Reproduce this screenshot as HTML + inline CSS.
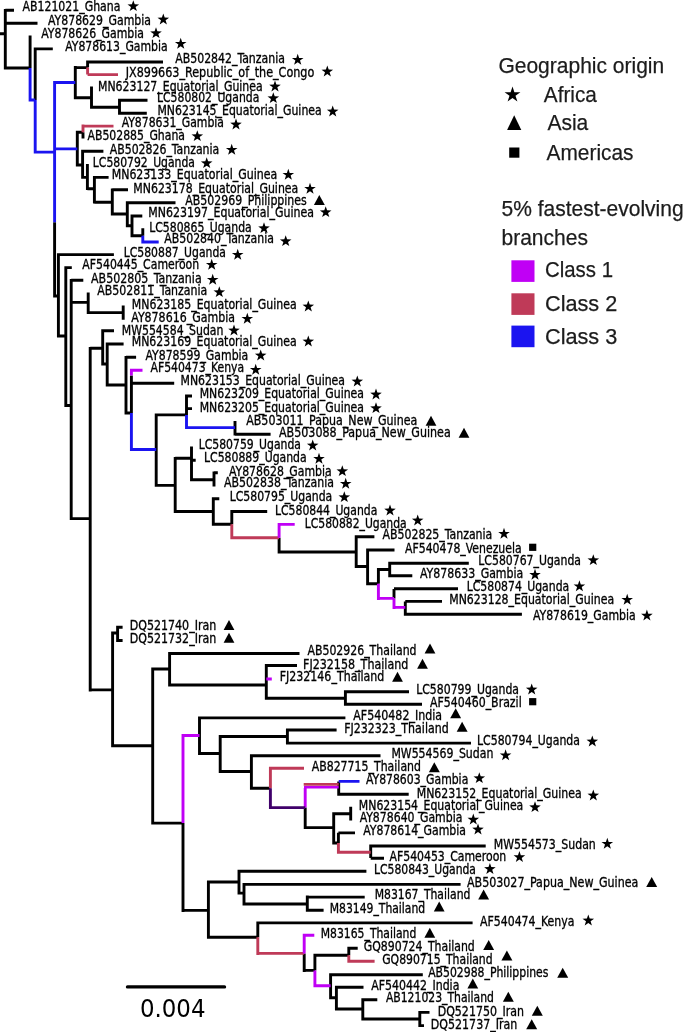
<!DOCTYPE html>
<html><head><meta charset="utf-8"><title>Phylogenetic tree</title>
<style>html,body{margin:0;padding:0;background:#fff}svg{display:block;filter:blur(0.3px)}.t{font-family:"DejaVu Sans Condensed","DejaVu Sans","Liberation Sans",sans-serif;font-size:13.2px;fill:#000;stroke:#000;stroke-width:0.3px}.l{font-family:"Liberation Sans",Arial,sans-serif;font-size:22.6px;fill:#1c1c1c;stroke:#1c1c1c;stroke-width:0.25px}.s{font-family:"DejaVu Sans","Liberation Sans",sans-serif;font-size:24px;fill:#000}</style></head><body>
<svg width="685" height="1032" viewBox="0 0 685 1032">
<rect width="685" height="1032" fill="#fff"/>
<path d="M0.0 33.7H5.3M5.3 8.9V69.5M5.3 10.3H14.0M5.3 23.2H37.5M5.3 68.0H30.1M30.1 35.5V68.0M35.2 47.4V100.0M35.2 48.9H52.8M54.6 222.3V297.4M75.3 66.1V99.2M75.3 67.6H87.6M87.6 60.5V67.6M87.6 62.0H163.0M75.3 97.8H91.5M91.5 86.5V108.8M91.5 107.3H119.5M119.5 98.8V114.8M119.5 100.2H147.5M119.5 113.3H146.8M77.3 130.8V166.4M77.3 132.2H83.0M83.0 132.2V138.5M77.3 165.0H82.6M82.6 149.8V178.8M82.6 151.2H103.4M82.6 177.4H87.4M87.4 164.0V190.1M87.4 188.7H94.4M94.4 176.0V203.6M94.4 177.4H108.6M94.4 202.2H112.3M112.3 188.4V215.4M112.3 189.8H128.0M112.3 214.0H127.3M127.3 201.2V227.2M127.3 202.7H175.5M127.3 225.8H132.0M132.0 214.6V237.2M132.0 216.0H142.3M132.0 235.8H142.8M142.8 228.3V235.8M54.6 296.0H58.4M58.4 253.2V337.4M58.4 254.6H113.9M58.4 336.0H65.8M65.8 266.2V406.9M65.8 267.6H71.8M65.8 405.5H71.2M71.2 278.9V520.1M71.2 280.3H83.3M71.2 302.4H88.2M88.2 292.5V314.1M88.2 312.6H123.2M123.2 305.5V319.8M71.2 518.6H90.2M90.2 346.9V691.4M90.2 348.3H102.7M102.7 329.2V365.4M102.7 330.7H114.0M102.7 364.0H107.2M107.2 342.6V386.4M107.2 344.0H123.6M107.2 385.0H126.0M126.0 355.9V414.4M126.0 357.3H136.1M126.0 413.0H131.4M131.4 375.5V413.0M131.4 383.3H174.2M156.2 413.4V486.8M156.2 414.9H186.5M186.5 394.6V414.9M186.5 396.0H192.0M186.5 408.6H192.0M235.0 421.0V435.6M235.0 434.2H270.6M156.2 485.4H175.2M175.2 456.9V513.0M175.2 458.3H191.5M191.5 446.5V481.2M191.5 460.3H195.7M191.5 479.8H214.0M214.0 471.4V486.6M214.0 472.8H217.8M175.2 511.5H213.3M213.3 497.2V525.8M213.3 498.7H219.3M213.3 524.3H231.8M231.8 510.1V524.3M231.8 511.5H267.2M279.1 537.7V553.5M279.1 552.0H356.2M356.2 535.3V568.0M356.2 536.8H374.4M356.2 566.5H367.6M367.6 548.5V585.2M367.6 550.0H394.5M367.6 583.7H378.4M378.4 568.0V583.7M378.4 569.5H389.7M389.7 561.8V577.2M389.7 563.2H468.8M389.7 575.8H412.3M394.0 589.0V598.4M394.0 588.8H458.0M405.3 601.6V615.7M405.3 601.4H442.0M405.3 614.2H521.9M90.2 689.9H112.6M112.6 631.5V747.2M112.6 633.0H117.6M117.6 625.8V642.0M117.6 627.3H122.6M117.6 640.5H122.6M112.6 745.8H152.7M152.7 667.5V824.6M152.7 669.0H169.6M169.6 652.0V686.5M169.6 653.5H299.5M169.6 685.0H266.3M266.3 664.0V699.7M266.3 665.5H297.0M266.3 698.2H345.4M345.4 690.2V705.7M345.4 691.7H409.0M345.4 704.2H422.0M152.7 823.1H183.0M183.0 823.1V911.9M199.5 716.4V755.0M199.5 717.9H345.4M199.5 753.5H220.2M220.2 735.0V773.0M220.2 736.5H287.4M287.4 728.5V744.6M287.4 730.0H336.6M287.4 743.1H471.0M220.2 771.5H251.4M251.4 754.3V789.7M251.4 755.8H380.5M251.4 788.2H270.4M305.2 807.6V829.1M338.7 781.5V795.7M338.7 794.2H408.7M305.2 827.6H333.7M333.7 812.2V844.5M333.7 813.7H350.7M350.7 806.8V820.6M333.7 843.0H338.4M338.4 832.8V843.0M338.4 832.9H355.0M370.7 844.5V858.1M370.7 846.0H485.7M370.7 858.3H384.0M183.0 910.4H208.4M208.4 880.5V938.8M208.4 882.0H239.0M239.0 869.8V894.6M239.0 871.2H366.4M239.0 893.1H244.0M244.0 882.9V905.5M244.0 884.4H460.6M244.0 904.0H307.3M307.3 895.6V911.7M307.3 897.1H364.7M307.3 910.2H323.6M208.4 937.3H257.8M257.8 921.4V937.3M257.8 922.9H472.6M304.2 953.4V971.9M304.2 970.4H314.9M314.9 953.8V970.4M314.9 955.2H348.8M348.8 946.8V955.2M348.8 948.3H357.7M330.6 973.3V999.2M330.6 974.8H422.8M330.6 997.8H336.4M336.4 985.8V1010.5M336.4 987.2H363.5M336.4 1009.0H362.8M362.8 998.3V1020.5M362.8 999.8H377.3M362.8 1019.0H419.8M419.8 1010.9V1027.0M419.8 1012.4H429.5M419.8 1025.6H424.0" fill="none" stroke="#000" stroke-width="2.9"/>
<path d="M30.1 68.0V101.5M30.1 100.0H35.2M35.2 100.0V153.5M35.2 152.1H54.6M54.6 81.0V222.3M54.6 82.5H75.3M54.6 148.9H77.3M142.8 235.8V243.4M142.8 242.0H158.7M131.4 413.0V450.9M131.4 449.5H156.2M186.5 414.9V429.1M186.5 427.6H235.0M338.7 781.4H359.5" fill="none" stroke="#1b14f0" stroke-width="2.9"/>
<path d="M87.6 67.6V74.5M87.6 74.6H118.0M83.0 124.6V132.2M83.0 126.1H113.5M231.8 524.3V539.2M231.8 537.7H279.1M270.4 766.8V788.2M270.4 768.2H304.0M338.4 843.0V853.8M338.4 852.3H370.7M257.8 937.3V954.9M257.8 953.4H304.2M348.8 955.2V962.8M348.8 961.3H374.6" fill="none" stroke="#bf3a58" stroke-width="2.9"/>
<path d="M131.4 368.8V375.5M131.4 370.2H142.5M279.1 522.9V537.7M279.1 524.4H294.7M378.4 583.7V599.9M378.4 598.4H394.0M394.0 598.4V608.9M394.0 607.4H405.3M266.3 679.0H271.8M183.0 734.0V823.1M183.0 735.5H199.5M305.2 788.0V807.6M304.2 933.8V953.4M304.2 935.3H314.3M314.9 970.4V987.2M314.9 985.8H330.6" fill="none" stroke="#c000f5" stroke-width="2.9"/>
<path d="M270.4 788.2V809.1M270.4 807.6H305.2" fill="none" stroke="#40006a" stroke-width="2.9"/>
<path d="M303.7 784.4H338.7" stroke="#bf3a58" stroke-width="2.6" fill="none"/>
<path d="M304.0 787.2H338.7" stroke="#c000f5" stroke-width="2.6" fill="none"/>
<g class="t">
<text x="22.5" y="11.3" textLength="97.9" lengthAdjust="spacingAndGlyphs">AB121021_Ghana</text>
<text x="48.0" y="24.6" textLength="103.0" lengthAdjust="spacingAndGlyphs">AY878629_Gambia</text>
<text x="41.3" y="37.9" textLength="102.7" lengthAdjust="spacingAndGlyphs">AY878626_Gambia</text>
<text x="65.3" y="51.3" textLength="102.4" lengthAdjust="spacingAndGlyphs">AY878613_Gambia</text>
<text x="175.2" y="63.3" textLength="109.8" lengthAdjust="spacingAndGlyphs">AB502842_Tanzania</text>
<text x="125.8" y="76.6" textLength="188.5" lengthAdjust="spacingAndGlyphs">JX899663_Republic_of_the_Congo</text>
<text x="98.0" y="91.1" textLength="164.7" lengthAdjust="spacingAndGlyphs">MN623127_Equatorial_Guinea</text>
<text x="157.0" y="101.6" textLength="102.3" lengthAdjust="spacingAndGlyphs">LC580802_Uganda</text>
<text x="157.4" y="114.9" textLength="164.3" lengthAdjust="spacingAndGlyphs">MN623145_Equatorial_Guinea</text>
<text x="121.7" y="126.6" textLength="102.3" lengthAdjust="spacingAndGlyphs">AY878631_Gambia</text>
<text x="87.5" y="140.0" textLength="97.5" lengthAdjust="spacingAndGlyphs">AB502885_Ghana</text>
<text x="109.7" y="154.1" textLength="109.6" lengthAdjust="spacingAndGlyphs">AB502826_Tanzania</text>
<text x="92.8" y="167.1" textLength="102.2" lengthAdjust="spacingAndGlyphs">LC580792_Uganda</text>
<text x="111.7" y="179.3" textLength="165.6" lengthAdjust="spacingAndGlyphs">MN623133_Equatorial_Guinea</text>
<text x="133.3" y="192.6" textLength="165.0" lengthAdjust="spacingAndGlyphs">MN623178_Equatorial_Guinea</text>
<text x="185.3" y="204.8" textLength="121.5" lengthAdjust="spacingAndGlyphs">AB502969_Philippines</text>
<text x="148.3" y="217.3" textLength="165.7" lengthAdjust="spacingAndGlyphs">MN623197_Equatorial_Guinea</text>
<text x="149.2" y="232.3" textLength="102.5" lengthAdjust="spacingAndGlyphs">LC580865_Uganda</text>
<text x="164.2" y="242.8" textLength="109.8" lengthAdjust="spacingAndGlyphs">AB502840_Tanzania</text>
<text x="123.7" y="257.2" textLength="102.3" lengthAdjust="spacingAndGlyphs">LC580887_Uganda</text>
<text x="82.3" y="269.1" textLength="116.9" lengthAdjust="spacingAndGlyphs">AF540445_Cameroon</text>
<text x="91.0" y="283.0" textLength="110.7" lengthAdjust="spacingAndGlyphs">AB502805_Tanzania</text>
<text x="97.3" y="295.4" textLength="110.0" lengthAdjust="spacingAndGlyphs">AB502811_Tanzania</text>
<text x="131.8" y="309.3" textLength="164.9" lengthAdjust="spacingAndGlyphs">MN623185_Equatorial_Guinea</text>
<text x="131.3" y="322.1" textLength="103.7" lengthAdjust="spacingAndGlyphs">AY878616_Gambia</text>
<text x="121.8" y="334.9" textLength="101.6" lengthAdjust="spacingAndGlyphs">MW554584_Sudan</text>
<text x="131.7" y="346.2" textLength="165.0" lengthAdjust="spacingAndGlyphs">MN623169_Equatorial_Guinea</text>
<text x="145.5" y="360.0" textLength="102.8" lengthAdjust="spacingAndGlyphs">AY878599_Gambia</text>
<text x="150.5" y="372.4" textLength="93.6" lengthAdjust="spacingAndGlyphs">AF540473_Kenya</text>
<text x="180.5" y="385.4" textLength="164.5" lengthAdjust="spacingAndGlyphs">MN623153_Equatorial_Guinea</text>
<text x="199.7" y="398.2" textLength="164.3" lengthAdjust="spacingAndGlyphs">MN623209_Equatorial_Guinea</text>
<text x="199.7" y="411.6" textLength="164.3" lengthAdjust="spacingAndGlyphs">MN623205_Equatorial_Guinea</text>
<text x="246.2" y="424.5" textLength="171.1" lengthAdjust="spacingAndGlyphs">AB503011_Papua_New_Guinea</text>
<text x="279.0" y="437.0" textLength="171.7" lengthAdjust="spacingAndGlyphs">AB503088_Papua_New_Guinea</text>
<text x="198.7" y="449.0" textLength="102.3" lengthAdjust="spacingAndGlyphs">LC580759_Uganda</text>
<text x="204.0" y="462.3" textLength="102.7" lengthAdjust="spacingAndGlyphs">LC580889_Uganda</text>
<text x="229.0" y="476.1" textLength="102.7" lengthAdjust="spacingAndGlyphs">AY878628_Gambia</text>
<text x="224.0" y="486.5" textLength="110.0" lengthAdjust="spacingAndGlyphs">AB502838_Tanzania</text>
<text x="229.7" y="501.3" textLength="102.6" lengthAdjust="spacingAndGlyphs">LC580795_Uganda</text>
<text x="275.0" y="514.6" textLength="102.3" lengthAdjust="spacingAndGlyphs">LC580844_Uganda</text>
<text x="304.7" y="528.0" textLength="102.0" lengthAdjust="spacingAndGlyphs">LC580882_Uganda</text>
<text x="382.5" y="539.3" textLength="109.8" lengthAdjust="spacingAndGlyphs">AB502825_Tanzania</text>
<text x="405.0" y="552.6" textLength="116.7" lengthAdjust="spacingAndGlyphs">AF540478_Venezuela</text>
<text x="478.3" y="565.4" textLength="102.7" lengthAdjust="spacingAndGlyphs">LC580767_Uganda</text>
<text x="420.0" y="577.9" textLength="103.3" lengthAdjust="spacingAndGlyphs">AY878633_Gambia</text>
<text x="466.7" y="591.2" textLength="102.5" lengthAdjust="spacingAndGlyphs">LC580874_Uganda</text>
<text x="449.2" y="604.3" textLength="164.9" lengthAdjust="spacingAndGlyphs">MN623128_Equatorial_Guinea</text>
<text x="533.0" y="620.0" textLength="102.7" lengthAdjust="spacingAndGlyphs">AY878619_Gambia</text>
<text x="129.7" y="630.0" textLength="86.6" lengthAdjust="spacingAndGlyphs">DQ521740_Iran</text>
<text x="129.7" y="643.1" textLength="86.6" lengthAdjust="spacingAndGlyphs">DQ521732_Iran</text>
<text x="307.5" y="655.0" textLength="109.0" lengthAdjust="spacingAndGlyphs">AB502926_Thailand</text>
<text x="303.0" y="668.8" textLength="105.3" lengthAdjust="spacingAndGlyphs">FJ232158_Thailand</text>
<text x="279.7" y="681.3" textLength="104.6" lengthAdjust="spacingAndGlyphs">FJ232146_Thailand</text>
<text x="416.2" y="693.8" textLength="102.8" lengthAdjust="spacingAndGlyphs">LC580799_Uganda</text>
<text x="430.0" y="706.6" textLength="91.7" lengthAdjust="spacingAndGlyphs">AF540460_Brazil</text>
<text x="353.3" y="720.0" textLength="88.8" lengthAdjust="spacingAndGlyphs">AF540482_India</text>
<text x="344.2" y="732.5" textLength="104.5" lengthAdjust="spacingAndGlyphs">FJ232323_Thailand</text>
<text x="477.0" y="745.3" textLength="103.0" lengthAdjust="spacingAndGlyphs">LC580794_Uganda</text>
<text x="391.4" y="758.3" textLength="102.0" lengthAdjust="spacingAndGlyphs">MW554569_Sudan</text>
<text x="311.7" y="771.3" textLength="109.3" lengthAdjust="spacingAndGlyphs">AB827715_Thailand</text>
<text x="366.0" y="783.8" textLength="102.3" lengthAdjust="spacingAndGlyphs">AY878603_Gambia</text>
<text x="416.7" y="798.0" textLength="165.0" lengthAdjust="spacingAndGlyphs">MN623152_Equatorial_Guinea</text>
<text x="358.8" y="809.5" textLength="164.5" lengthAdjust="spacingAndGlyphs">MN623154_Equatorial_Guinea</text>
<text x="359.7" y="822.3" textLength="102.7" lengthAdjust="spacingAndGlyphs">AY878640_Gambia</text>
<text x="363.3" y="835.3" textLength="102.7" lengthAdjust="spacingAndGlyphs">AY878614_Gambia</text>
<text x="493.7" y="849.3" textLength="102.1" lengthAdjust="spacingAndGlyphs">MW554573_Sudan</text>
<text x="389.5" y="861.0" textLength="116.7" lengthAdjust="spacingAndGlyphs">AF540453_Cameroon</text>
<text x="374.0" y="873.8" textLength="102.0" lengthAdjust="spacingAndGlyphs">LC580843_Uganda</text>
<text x="467.0" y="887.2" textLength="171.3" lengthAdjust="spacingAndGlyphs">AB503027_Papua_New_Guinea</text>
<text x="374.7" y="899.3" textLength="95.7" lengthAdjust="spacingAndGlyphs">M83167_Thailand</text>
<text x="329.7" y="912.5" textLength="95.5" lengthAdjust="spacingAndGlyphs">M83149_Thailand</text>
<text x="480.0" y="925.7" textLength="94.4" lengthAdjust="spacingAndGlyphs">AF540474_Kenya</text>
<text x="320.8" y="938.1" textLength="95.5" lengthAdjust="spacingAndGlyphs">M83165_Thailand</text>
<text x="363.8" y="950.9" textLength="111.0" lengthAdjust="spacingAndGlyphs">GQ890724_Thailand</text>
<text x="382.2" y="964.0" textLength="110.4" lengthAdjust="spacingAndGlyphs">GQ890715_Thailand</text>
<text x="428.2" y="976.6" textLength="120.2" lengthAdjust="spacingAndGlyphs">AB502988_Philippines</text>
<text x="371.3" y="989.6" textLength="88.1" lengthAdjust="spacingAndGlyphs">AF540442_India</text>
<text x="385.9" y="1002.2" textLength="108.1" lengthAdjust="spacingAndGlyphs">AB121023_Thailand</text>
<text x="437.7" y="1016.3" textLength="86.3" lengthAdjust="spacingAndGlyphs">DQ521750_Iran</text>
<text x="430.8" y="1028.5" textLength="86.5" lengthAdjust="spacingAndGlyphs">DQ521737_Iran</text>
</g>
<g fill="#000"><polygon points="133.3,0.2 134.7,4.3 139.1,4.4 135.6,7.0 136.9,11.1 133.3,8.7 129.7,11.1 131.0,7.0 127.5,4.4 131.9,4.3"/><polygon points="163.3,13.5 164.7,17.6 169.1,17.7 165.6,20.3 166.9,24.4 163.3,22.0 159.7,24.4 161.0,20.3 157.5,17.7 161.9,17.6"/><polygon points="156.0,27.2 157.4,31.3 161.8,31.4 158.3,34.0 159.6,38.1 156.0,35.7 152.4,38.1 153.7,34.0 150.2,31.4 154.6,31.3"/><polygon points="180.7,37.8 182.1,41.9 186.5,42.0 183.0,44.6 184.3,48.7 180.7,46.3 177.1,48.7 178.4,44.6 174.9,42.0 179.3,41.9"/><polygon points="297.7,53.8 299.1,57.9 303.5,58.0 300.0,60.6 301.3,64.7 297.7,62.3 294.1,64.7 295.4,60.6 291.9,58.0 296.3,57.9"/><polygon points="327.3,65.5 328.7,69.6 333.1,69.7 329.6,72.3 330.9,76.4 327.3,74.0 323.7,76.4 325.0,72.3 321.5,69.7 325.9,69.6"/><polygon points="275.0,80.5 276.4,84.6 280.8,84.7 277.3,87.3 278.6,91.4 275.0,89.0 271.4,91.4 272.7,87.3 269.2,84.7 273.6,84.6"/><polygon points="273.3,92.2 274.7,96.3 279.1,96.4 275.6,99.0 276.9,103.1 273.3,100.7 269.7,103.1 271.0,99.0 267.5,96.4 271.9,96.3"/><polygon points="332.7,105.5 334.1,109.6 338.5,109.7 335.0,112.3 336.3,116.4 332.7,114.0 329.1,116.4 330.4,112.3 326.9,109.7 331.3,109.6"/><polygon points="236.0,118.5 237.4,122.6 241.8,122.7 238.3,125.3 239.6,129.4 236.0,127.0 232.4,129.4 233.7,125.3 230.2,122.7 234.6,122.6"/><polygon points="197.3,130.2 198.7,134.3 203.1,134.4 199.6,137.0 200.9,141.1 197.3,138.7 193.7,141.1 195.0,137.0 191.5,134.4 195.9,134.3"/><polygon points="231.7,143.8 233.1,147.9 237.5,148.0 234.0,150.6 235.3,154.7 231.7,152.3 228.1,154.7 229.4,150.6 225.9,148.0 230.3,147.9"/><polygon points="206.7,157.2 208.1,161.3 212.5,161.4 209.0,164.0 210.3,168.1 206.7,165.7 203.1,168.1 204.4,164.0 200.9,161.4 205.3,161.3"/><polygon points="288.3,168.8 289.7,172.9 294.1,173.0 290.6,175.6 291.9,179.7 288.3,177.3 284.7,179.7 286.0,175.6 282.5,173.0 286.9,172.9"/><polygon points="310.0,182.8 311.4,186.9 315.8,187.0 312.3,189.6 313.6,193.7 310.0,191.3 306.4,193.7 307.7,189.6 304.2,187.0 308.6,186.9"/><polygon points="319.3,195.0 324.8,205.0 313.9,205.0"/><polygon points="325.7,206.2 327.1,210.3 331.5,210.4 328.0,213.0 329.3,217.1 325.7,214.7 322.1,217.1 323.4,213.0 319.9,210.4 324.3,210.3"/><polygon points="264.0,222.2 265.4,226.3 269.8,226.4 266.3,229.0 267.6,233.1 264.0,230.7 260.4,233.1 261.7,229.0 258.2,226.4 262.6,226.3"/><polygon points="285.7,235.2 287.1,239.3 291.5,239.4 288.0,242.0 289.3,246.1 285.7,243.7 282.1,246.1 283.4,242.0 279.9,239.4 284.3,239.3"/><polygon points="237.7,248.8 239.1,252.9 243.5,253.0 240.0,255.6 241.3,259.7 237.7,257.3 234.1,259.7 235.4,255.6 231.9,253.0 236.3,252.9"/><polygon points="211.7,258.8 213.1,262.9 217.5,263.0 214.0,265.6 215.3,269.7 211.7,267.3 208.1,269.7 209.4,265.6 205.9,263.0 210.3,262.9"/><polygon points="212.7,273.8 214.1,277.9 218.5,278.0 215.0,280.6 216.3,284.7 212.7,282.3 209.1,284.7 210.4,280.6 206.9,278.0 211.3,277.9"/><polygon points="219.3,286.2 220.7,290.3 225.1,290.4 221.6,293.0 222.9,297.1 219.3,294.7 215.7,297.1 217.0,293.0 213.5,290.4 217.9,290.3"/><polygon points="308.3,300.5 309.7,304.6 314.1,304.7 310.6,307.3 311.9,311.4 308.3,309.0 304.7,311.4 306.0,307.3 302.5,304.7 306.9,304.6"/><polygon points="247.3,312.8 248.7,316.9 253.1,317.0 249.6,319.6 250.9,323.7 247.3,321.3 243.7,323.7 245.0,319.6 241.5,317.0 245.9,316.9"/><polygon points="234.0,324.5 235.4,328.6 239.8,328.7 236.3,331.3 237.6,335.4 234.0,333.0 230.4,335.4 231.7,331.3 228.2,328.7 232.6,328.6"/><polygon points="308.3,335.5 309.7,339.6 314.1,339.7 310.6,342.3 311.9,346.4 308.3,344.0 304.7,346.4 306.0,342.3 302.5,339.7 306.9,339.6"/><polygon points="260.7,349.5 262.1,353.6 266.5,353.7 263.0,356.3 264.3,360.4 260.7,358.0 257.1,360.4 258.4,356.3 254.9,353.7 259.3,353.6"/><polygon points="255.7,363.8 257.1,367.9 261.5,368.0 258.0,370.6 259.3,374.7 255.7,372.3 252.1,374.7 253.4,370.6 249.9,368.0 254.3,367.9"/><polygon points="357.3,375.5 358.7,379.6 363.1,379.7 359.6,382.3 360.9,386.4 357.3,384.0 353.7,386.4 355.0,382.3 351.5,379.7 355.9,379.6"/><polygon points="376.0,388.5 377.4,392.6 381.8,392.7 378.3,395.3 379.6,399.4 376.0,397.0 372.4,399.4 373.7,395.3 370.2,392.7 374.6,392.6"/><polygon points="376.0,402.2 377.4,406.3 381.8,406.4 378.3,409.0 379.6,413.1 376.0,410.7 372.4,413.1 373.7,409.0 370.2,406.4 374.6,406.3"/><polygon points="431.0,415.7 436.4,425.7 425.6,425.7"/><polygon points="464.0,427.7 469.4,437.7 458.6,437.7"/><polygon points="312.7,439.5 314.1,443.6 318.5,443.7 315.0,446.3 316.3,450.4 312.7,448.0 309.1,450.4 310.4,446.3 306.9,443.7 311.3,443.6"/><polygon points="319.0,452.8 320.4,456.9 324.8,457.0 321.3,459.6 322.6,463.7 319.0,461.3 315.4,463.7 316.7,459.6 313.2,457.0 317.6,456.9"/><polygon points="342.3,465.2 343.7,469.3 348.1,469.4 344.6,472.0 345.9,476.1 342.3,473.7 338.7,476.1 340.0,472.0 336.5,469.4 340.9,469.3"/><polygon points="345.7,477.8 347.1,481.9 351.5,482.0 348.0,484.6 349.3,488.7 345.7,486.3 342.1,488.7 343.4,484.6 339.9,482.0 344.3,481.9"/><polygon points="344.3,491.2 345.7,495.3 350.1,495.4 346.6,498.0 347.9,502.1 344.3,499.7 340.7,502.1 342.0,498.0 338.5,495.4 342.9,495.3"/><polygon points="390.0,504.5 391.4,508.6 395.8,508.7 392.3,511.3 393.6,515.4 390.0,513.0 386.4,515.4 387.7,511.3 384.2,508.7 388.6,508.6"/><polygon points="417.7,514.5 419.1,518.6 423.5,518.7 420.0,521.3 421.3,525.4 417.7,523.0 414.1,525.4 415.4,521.3 411.9,518.7 416.3,518.6"/><polygon points="504.0,527.8 505.4,531.9 509.8,532.0 506.3,534.6 507.6,538.7 504.0,536.3 500.4,538.7 501.7,534.6 498.2,532.0 502.6,531.9"/><rect x="529.1" y="543.7" width="7.2" height="7.2"/><polygon points="593.3,554.2 594.7,558.3 599.1,558.4 595.6,561.0 596.9,565.1 593.3,562.7 589.7,565.1 591.0,561.0 587.5,558.4 591.9,558.3"/><polygon points="535.0,568.8 536.4,572.9 540.8,573.0 537.3,575.6 538.6,579.7 535.0,577.3 531.4,579.7 532.7,575.6 529.2,573.0 533.6,572.9"/><polygon points="579.4,580.3 580.8,584.4 585.2,584.5 581.7,587.1 583.0,591.2 579.4,588.8 575.8,591.2 577.1,587.1 573.6,584.5 578.0,584.4"/><polygon points="627.2,593.8 628.6,597.9 633.0,598.0 629.5,600.6 630.8,604.7 627.2,602.3 623.6,604.7 624.9,600.6 621.4,598.0 625.8,597.9"/><polygon points="646.9,609.6 648.3,613.7 652.7,613.8 649.2,616.4 650.5,620.5 646.9,618.1 643.3,620.5 644.6,616.4 641.1,613.8 645.5,613.7"/><polygon points="229.0,620.0 234.4,630.0 223.6,630.0"/><polygon points="229.0,632.7 234.4,642.7 223.6,642.7"/><polygon points="430.0,643.5 435.4,653.5 424.6,653.5"/><polygon points="422.5,658.7 427.9,668.7 417.1,668.7"/><polygon points="397.5,671.7 402.9,681.7 392.1,681.7"/><polygon points="531.7,683.5 533.1,687.6 537.5,687.7 534.0,690.3 535.3,694.4 531.7,692.0 528.1,694.4 529.4,690.3 525.9,687.7 530.3,687.6"/><rect x="529.1" y="698.1" width="7.2" height="7.2"/><polygon points="455.7,708.3 461.1,718.3 450.2,718.3"/><polygon points="462.1,721.8 467.6,731.8 456.7,731.8"/><polygon points="592.3,735.5 593.7,739.6 598.1,739.7 594.6,742.3 595.9,746.4 592.3,744.0 588.7,746.4 590.0,742.3 586.5,739.7 590.9,739.6"/><polygon points="505.6,749.3 507.0,753.4 511.4,753.5 507.9,756.1 509.2,760.2 505.6,757.8 502.0,760.2 503.3,756.1 499.8,753.5 504.2,753.4"/><polygon points="434.3,762.3 439.8,772.3 428.9,772.3"/><polygon points="479.3,772.2 480.7,776.3 485.1,776.4 481.6,779.0 482.9,783.1 479.3,780.7 475.7,783.1 477.0,779.0 473.5,776.4 477.9,776.3"/><polygon points="593.3,789.5 594.7,793.6 599.1,793.7 595.6,796.3 596.9,800.4 593.3,798.0 589.7,800.4 591.0,796.3 587.5,793.7 591.9,793.6"/><polygon points="535.0,801.2 536.4,805.3 540.8,805.4 537.3,808.0 538.6,812.1 535.0,809.7 531.4,812.1 532.7,808.0 529.2,805.4 533.6,805.3"/><polygon points="473.3,813.6 474.7,817.7 479.1,817.8 475.6,820.4 476.9,824.5 473.3,822.1 469.7,824.5 471.0,820.4 467.5,817.8 471.9,817.7"/><polygon points="478.0,823.5 479.4,827.6 483.8,827.7 480.3,830.3 481.6,834.4 478.0,832.0 474.4,834.4 475.7,830.3 472.2,827.7 476.6,827.6"/><polygon points="607.3,837.8 608.7,841.9 613.1,842.0 609.6,844.6 610.9,848.7 607.3,846.3 603.7,848.7 605.0,844.6 601.5,842.0 605.9,841.9"/><polygon points="519.4,851.1 520.8,855.2 525.2,855.3 521.7,857.9 523.0,862.0 519.4,859.6 515.8,862.0 517.1,857.9 513.6,855.3 518.0,855.2"/><polygon points="489.9,863.0 491.3,867.1 495.7,867.2 492.2,869.8 493.5,873.9 489.9,871.5 486.3,873.9 487.6,869.8 484.1,867.2 488.5,867.1"/><polygon points="651.7,876.9 657.2,886.9 646.2,886.9"/><polygon points="483.6,889.4 489.1,899.4 478.2,899.4"/><polygon points="439.2,901.5 444.6,911.5 433.8,911.5"/><polygon points="588.3,914.5 589.7,918.6 594.1,918.7 590.6,921.3 591.9,925.4 588.3,923.0 584.7,925.4 586.0,921.3 582.5,918.7 586.9,918.6"/><polygon points="429.8,927.8 435.2,937.8 424.4,937.8"/><polygon points="488.7,940.0 494.1,950.0 483.2,950.0"/><polygon points="506.9,950.5 512.4,960.5 501.4,960.5"/><polygon points="562.7,967.7 568.2,977.7 557.2,977.7"/><polygon points="472.8,978.5 478.2,988.5 467.4,988.5"/><polygon points="508.3,991.7 513.8,1001.7 502.9,1001.7"/><polygon points="537.3,1005.7 542.8,1015.7 531.8,1015.7"/><polygon points="531.7,1019.3 537.2,1029.3 526.2,1029.3"/></g>
<path d="M127.5 986.9L224.5 986.9" stroke="#000" stroke-width="3.4" stroke-linecap="round" fill="none"/>
<text class="s" x="139.9" y="1017.3" textLength="65.6" lengthAdjust="spacingAndGlyphs">0.004</text>
<g class="l">
<text x="498.4" y="73.4" textLength="165.8" lengthAdjust="spacingAndGlyphs">Geographic origin</text>
<text x="543.8" y="102.1" textLength="53.1" lengthAdjust="spacingAndGlyphs">Africa</text>
<text x="547.4" y="130.0" textLength="40.9" lengthAdjust="spacingAndGlyphs">Asia</text>
<text x="546.6" y="160.4" textLength="86.9" lengthAdjust="spacingAndGlyphs">Americas</text>
<text x="501.5" y="216.3" textLength="182.1" lengthAdjust="spacingAndGlyphs">5% fastest-evolving</text>
<text x="501.5" y="244.5" textLength="86.4" lengthAdjust="spacingAndGlyphs">branches</text>
<text x="545" y="277.4" textLength="68.0" lengthAdjust="spacingAndGlyphs">Class 1</text>
<text x="545" y="311.2" textLength="72.3" lengthAdjust="spacingAndGlyphs">Class 2</text>
<text x="545" y="343.5" textLength="72.3" lengthAdjust="spacingAndGlyphs">Class 3</text>
</g>
<g fill="#000"><polygon points="512.5,86.5 514.4,92.2 520.4,92.2 515.5,95.8 517.4,101.5 512.5,98.0 507.6,101.5 509.5,95.8 504.6,92.2 510.6,92.2"/><polygon points="514.2,115.2 521.3,130.0 507.1,130.0"/><rect x="509.2" y="147.5" width="10.2" height="10.2"/></g>
<rect x="511.4" y="260.3" width="23.1" height="21.6" fill="#c000f5"/>
<rect x="511.4" y="293.3" width="23.1" height="21.6" fill="#bf3a58"/>
<rect x="511.4" y="325.6" width="23.1" height="21.6" fill="#1b14f0"/>
</svg></body></html>
